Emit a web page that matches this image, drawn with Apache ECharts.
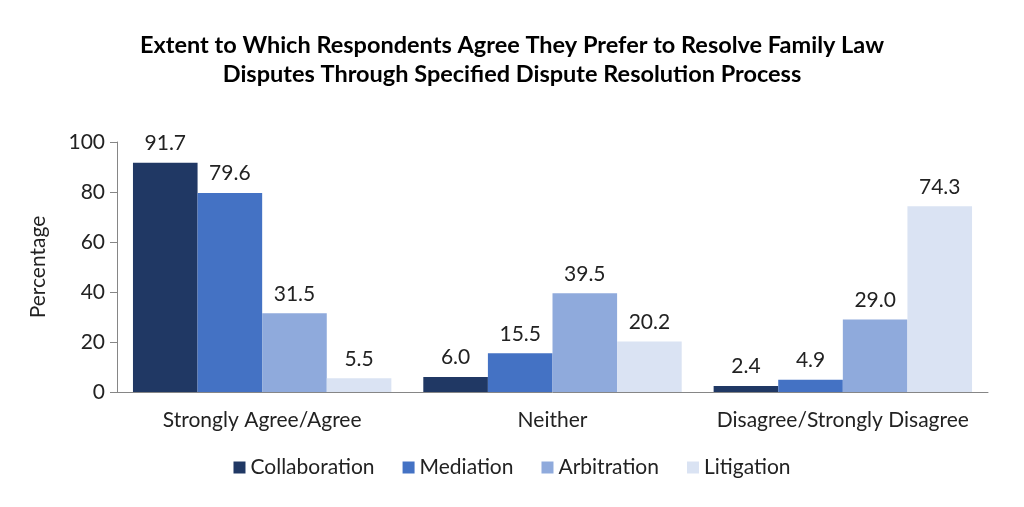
<!DOCTYPE html>
<html>
<head>
<meta charset="utf-8">
<script src="https://cdn.jsdelivr.net/npm/echarts@6/dist/echarts.min.js"></script>
<style>
  html, body { margin: 0; padding: 0; background: #fff; }
  #main { width: 1024px; height: 507px; }
</style>
</head>
<body>
<div id="main"></div>
<script>
// data
var categories = ['Strongly Agree/Agree', 'Neither', 'Disagree/Strongly Disagree'];
var seriesNames = ['Collaboration', 'Mediation', 'Arbitration', 'Litigation'];
var collaboration = [91.7, 6.0, 2.4];
var mediation = [79.6, 15.5, 4.9];
var arbitration = [31.5, 39.5, 29.0];
var litigation = [5.5, 20.2, 74.3];
var yTicks = [0, 20, 40, 60, 80, 100];

var colors = ['#203864', '#4472C4', '#8FAADC', '#DAE3F3'];
var font = 'Lato';
var fs = 21;

var myChart = echarts.init(document.getElementById('main'));

function bar(name, data) {
    return {
        name: name,
        type: 'bar',
        data: data,
        barGap: '0%',
        barCategoryGap: '11%',
        label: {
            show: true,
            position: 'top',
            distance: 9,
            fontFamily: font,
            fontSize: fs,
            color: '#222',
            formatter: function (p) { return p.value.toFixed(1); }
        }
    };
}

myChart.setOption({
    animation: false,
    color: colors,
    title: {
        text: 'Extent to Which Respondents Agree They Prefer to Resolve Family Law\nDisputes Through Specified Dispute Resolution Process',
        left: 'center',
        top: 26,
        textStyle: {
            fontFamily: font,
            fontWeight: 'bold',
            fontSize: 23.5,
            lineHeight: 29,
            color: '#000'
        }
    },
    legend: {
        data: seriesNames,
        bottom: 24,
        left: 'center',
        icon: 'rect',
        itemWidth: 12,
        itemHeight: 12,
        itemGap: 28,
        textStyle: { fontFamily: font, fontSize: fs, color: '#222' }
    },
    grid: { left: 117, right: 36, top: 142, bottom: 115 },
    xAxis: {
        type: 'category',
        data: categories,
        axisLine: { lineStyle: { color: '#868686' } },
        axisTick: { length: 6, lineStyle: { color: '#868686' } },
        axisLabel: {
            interval: 0,
            hideOverlap: false,
            fontFamily: font,
            fontSize: fs,
            color: '#222',
            margin: 18
        }
    },
    yAxis: {
        type: 'value',
        min: yTicks[0],
        max: yTicks[yTicks.length - 1],
        interval: yTicks[1] - yTicks[0],
        name: 'Percentage',
        nameLocation: 'middle',
        nameGap: 68,
        nameTextStyle: { fontFamily: font, fontSize: fs, color: '#222' },
        axisLine: { show: true, lineStyle: { color: '#868686' } },
        axisTick: { show: true, length: 7, lineStyle: { color: '#868686' } },
        splitLine: { show: false },
        axisLabel: { fontFamily: font, fontSize: fs, color: '#222', margin: 12 }
    },
    series: [
        bar(seriesNames[0], collaboration),
        bar(seriesNames[1], mediation),
        bar(seriesNames[2], arbitration),
        bar(seriesNames[3], litigation)
    ]
});
</script>
</body>
</html>
